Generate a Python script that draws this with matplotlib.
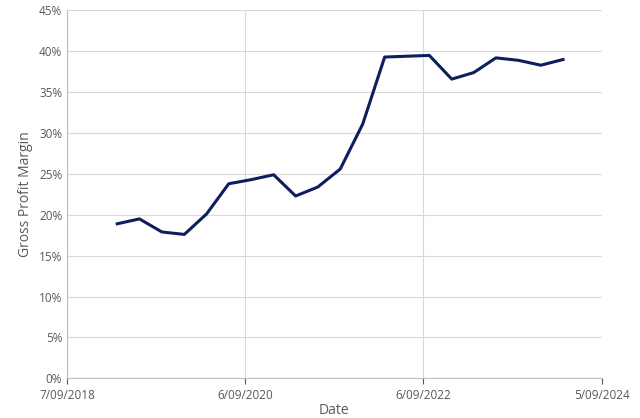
import datetime as dt
import matplotlib
matplotlib.use("Agg")
import matplotlib.pyplot as plt
import matplotlib.dates as mdates
from matplotlib.ticker import FuncFormatter

# quarterly gross profit margin
dates = [dt.date(y, m, d) for y, m, d in [
    (2019, 3, 31), (2019, 6, 30), (2019, 9, 30), (2019, 12, 31),
    (2020, 3, 31), (2020, 6, 30), (2020, 9, 30), (2020, 12, 31),
    (2021, 3, 31), (2021, 6, 30), (2021, 9, 30), (2021, 12, 31),
    (2022, 3, 31), (2022, 6, 30), (2022, 9, 30), (2022, 12, 31),
    (2023, 3, 31), (2023, 6, 30), (2023, 9, 30), (2023, 12, 31),
    (2024, 3, 31)]]
margin = [18.9, 19.5, 17.9, 17.6, 20.1, 23.8, 24.3, 24.9, 22.3, 23.4, 25.6,
          31.1, 39.3, 39.4, 39.5, 36.6, 37.4, 39.2, 38.9, 38.3, 39.0]
tick_dates = [dt.date(2018, 9, 7), dt.date(2020, 9, 6), dt.date(2022, 9, 6), dt.date(2024, 9, 5)]

plt.rcParams['font.family'] = ['Open Sans', 'DejaVu Sans']
grey = '#595959'

fig, ax = plt.subplots(figsize=(6.4, 4.18), dpi=100)
fig.subplots_adjust(left=0.105, right=0.94, top=0.975, bottom=0.095)

ax.plot(dates, margin, color='#0c1f5c', lw=2.2)

ax.set_xlim(tick_dates[0], tick_dates[-1])
ax.set_xticks(tick_dates)
ax.xaxis.set_major_formatter(FuncFormatter(
    lambda v, p: (lambda d: f"{d.day}/{d.month:02d}/{d.year}")(mdates.num2date(v))))
ax.set_ylim(0, 45)
ax.set_yticks(range(0, 46, 5))
ax.yaxis.set_major_formatter(FuncFormatter(lambda v, p: f"{v:.0f}%"))

ax.grid(True, color='#d9d9d9', lw=0.8)
ax.set_axisbelow(True)
for s in ['top', 'right']:
    ax.spines[s].set_visible(False)
for s in ['left', 'bottom']:
    ax.spines[s].set_color('#bfbfbf')
ax.tick_params(colors=grey, labelsize=8.5, length=4)
ax.tick_params(axis='y', length=0)
ax.set_xlabel('Date', color=grey, fontsize=10, labelpad=1)
ax.set_ylabel('Gross Profit Margin', color=grey, fontsize=10)

fig.savefig('out.png', dpi=100)
